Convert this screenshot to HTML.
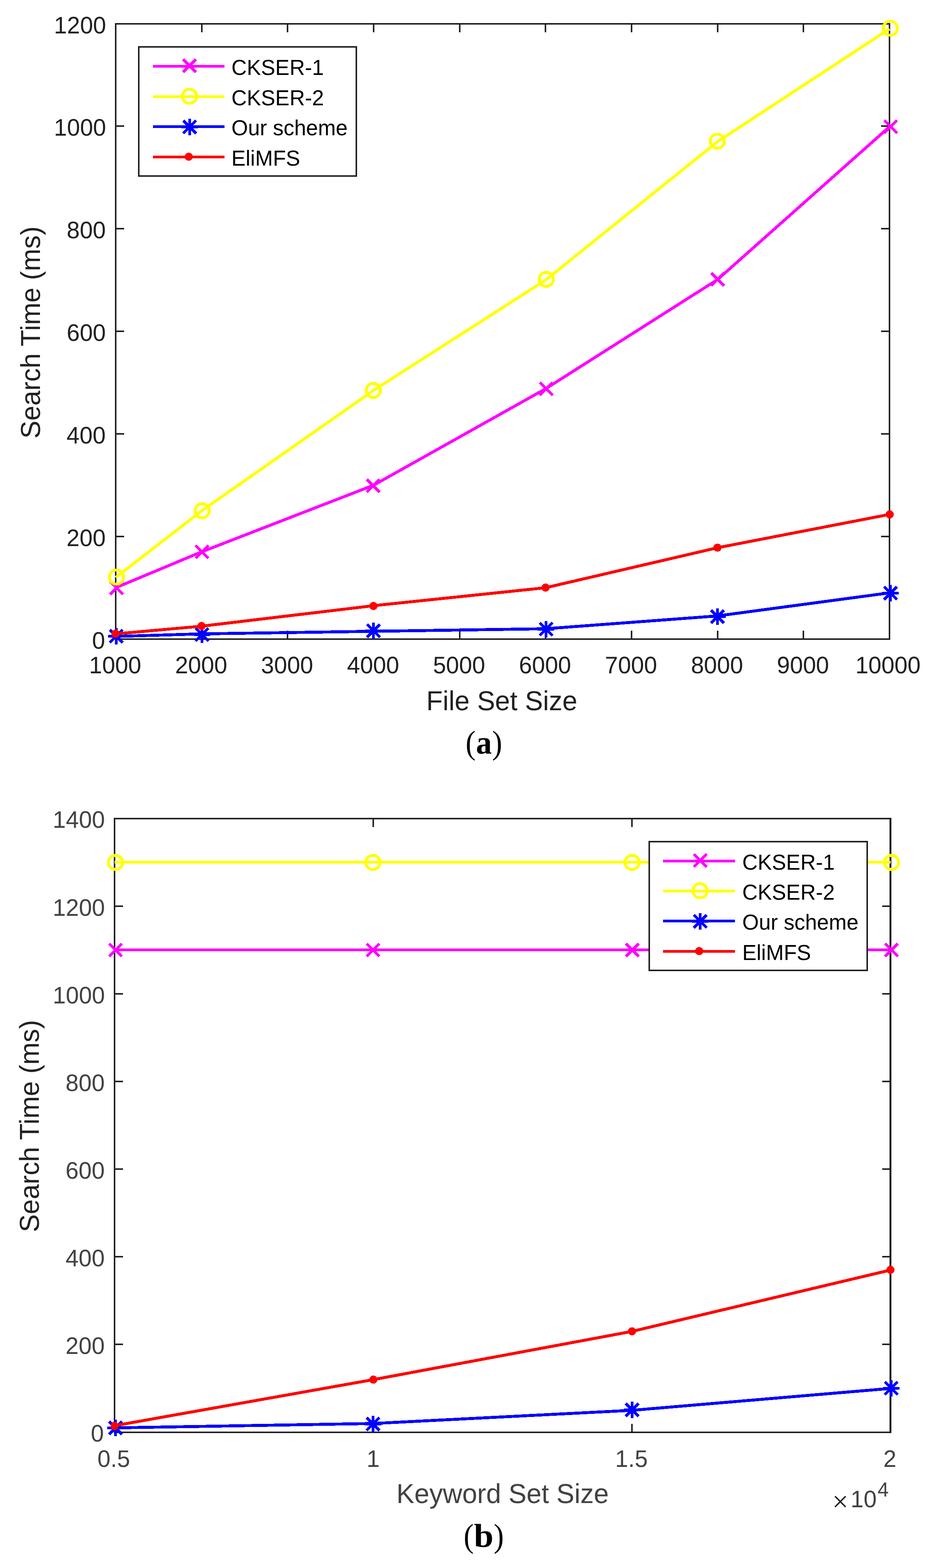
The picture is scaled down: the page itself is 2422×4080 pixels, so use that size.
<!DOCTYPE html>
<html lang="en">
<head>
<meta charset="utf-8">
<title>Search time comparison: (a) File Set Size, (b) Keyword Set Size</title>
<style>
html,body{margin:0;padding:0;background:#fff;}
body{width:2422px;height:4080px;overflow:hidden;}
svg{display:block;}
</style>
</head>
<body>
<svg width="2422" height="4080" viewBox="0 0 2422 4080" shape-rendering="crispEdges" text-rendering="geometricPrecision">
<rect width="2422" height="4080" fill="#fff"/>
<g class="chart">
<path d="M301.00 1663V1641M301.00 62V84M524.67 1663V1641M524.67 62V84M748.33 1663V1641M748.33 62V84M972.00 1663V1641M972.00 62V84M1195.67 1663V1641M1195.67 62V84M1419.33 1663V1641M1419.33 62V84M1643.00 1663V1641M1643.00 62V84M1866.67 1663V1641M1866.67 62V84M2090.33 1663V1641M2090.33 62V84M2314.00 1663V1641M2314.00 62V84M301 1663.00H323M2314 1663.00H2292M301 1395.67H323M2314 1395.67H2292M301 1128.83H323M2314 1128.83H2292M301 862.00H323M2314 862.00H2292M301 595.17H323M2314 595.17H2292M301 328.33H323M2314 328.33H2292M301 62.00H323M2314 62.00H2292" stroke="#212121" stroke-width="4" fill="none"/>
<rect x="301" y="62" width="2013" height="1601" stroke="#212121" stroke-width="4" fill="none"/>
<text transform="translate(299.60 1752.30) scale(1 1.02)" text-anchor="middle" font-family='"Liberation Sans", Arial, Helvetica, sans-serif' font-size="61" fill="#212121">1000</text>
<text transform="translate(523.27 1752.30) scale(1 1.02)" text-anchor="middle" font-family='"Liberation Sans", Arial, Helvetica, sans-serif' font-size="61" fill="#212121">2000</text>
<text transform="translate(746.93 1752.30) scale(1 1.02)" text-anchor="middle" font-family='"Liberation Sans", Arial, Helvetica, sans-serif' font-size="61" fill="#212121">3000</text>
<text transform="translate(970.60 1752.30) scale(1 1.02)" text-anchor="middle" font-family='"Liberation Sans", Arial, Helvetica, sans-serif' font-size="61" fill="#212121">4000</text>
<text transform="translate(1194.27 1752.30) scale(1 1.02)" text-anchor="middle" font-family='"Liberation Sans", Arial, Helvetica, sans-serif' font-size="61" fill="#212121">5000</text>
<text transform="translate(1417.93 1752.30) scale(1 1.02)" text-anchor="middle" font-family='"Liberation Sans", Arial, Helvetica, sans-serif' font-size="61" fill="#212121">6000</text>
<text transform="translate(1641.60 1752.30) scale(1 1.02)" text-anchor="middle" font-family='"Liberation Sans", Arial, Helvetica, sans-serif' font-size="61" fill="#212121">7000</text>
<text transform="translate(1865.27 1752.30) scale(1 1.02)" text-anchor="middle" font-family='"Liberation Sans", Arial, Helvetica, sans-serif' font-size="61" fill="#212121">8000</text>
<text transform="translate(2088.93 1752.30) scale(1 1.02)" text-anchor="middle" font-family='"Liberation Sans", Arial, Helvetica, sans-serif' font-size="61" fill="#212121">9000</text>
<text transform="translate(2310.00 1752.30) scale(1 1.02)" text-anchor="middle" font-family='"Liberation Sans", Arial, Helvetica, sans-serif' font-size="61" fill="#212121">10000</text>
<text transform="translate(273.50 1687.60) scale(1 1.02)" text-anchor="end" font-family='"Liberation Sans", Arial, Helvetica, sans-serif' font-size="61" fill="#212121">0</text>
<text transform="translate(274.85 1420.77) scale(1 1.02)" text-anchor="end" font-family='"Liberation Sans", Arial, Helvetica, sans-serif' font-size="61" fill="#212121">200</text>
<text transform="translate(274.85 1153.93) scale(1 1.02)" text-anchor="end" font-family='"Liberation Sans", Arial, Helvetica, sans-serif' font-size="61" fill="#212121">400</text>
<text transform="translate(275.30 887.10) scale(1 1.02)" text-anchor="end" font-family='"Liberation Sans", Arial, Helvetica, sans-serif' font-size="61" fill="#212121">600</text>
<text transform="translate(275.30 620.27) scale(1 1.02)" text-anchor="end" font-family='"Liberation Sans", Arial, Helvetica, sans-serif' font-size="61" fill="#212121">800</text>
<text transform="translate(276.00 353.43) scale(1 1.02)" text-anchor="end" font-family='"Liberation Sans", Arial, Helvetica, sans-serif' font-size="61" fill="#212121">1000</text>
<text transform="translate(276.00 86.60) scale(1 1.02)" text-anchor="end" font-family='"Liberation Sans", Arial, Helvetica, sans-serif' font-size="61" fill="#212121">1200</text>
<text transform="translate(1305.40 1848.00) scale(1 1.02)" text-anchor="middle" font-family='"Liberation Sans", Arial, Helvetica, sans-serif' font-size="70" fill="#212121">File Set Size</text>
<text transform="translate(104.00 865.00) rotate(-90) scale(1 1.02)" text-anchor="middle" font-family='"Liberation Sans", Arial, Helvetica, sans-serif' font-size="70" fill="#212121">Search Time (ms)</text>
<polyline points="301.00,1529.28 524.67,1435.89 972.00,1262.45 1419.33,1011.63 1866.67,727.45 2314.00,329.87" stroke="#ff00ff" stroke-width="7.7" fill="none" stroke-linejoin="round"/>
<path d="M286.35 1513.20L319.75 1546.60M286.35 1546.60L319.75 1513.20" stroke="#ff00ff" stroke-width="7.2" fill="none"/>
<path d="M508.80 1419.20L542.20 1452.60M508.80 1452.60L542.20 1419.20" stroke="#ff00ff" stroke-width="7.2" fill="none"/>
<path d="M954.28 1247.20L987.68 1280.60M954.28 1280.60L987.68 1247.20" stroke="#ff00ff" stroke-width="7.2" fill="none"/>
<path d="M1404.30 995.14L1437.70 1028.54M1404.30 1028.54L1437.70 995.14" stroke="#ff00ff" stroke-width="7.2" fill="none"/>
<path d="M1850.25 710.20L1883.65 743.60M1850.25 743.60L1883.65 710.20" stroke="#ff00ff" stroke-width="7.2" fill="none"/>
<path d="M2300.37 313.14L2333.77 346.54M2300.37 346.54L2333.77 313.14" stroke="#ff00ff" stroke-width="7.2" fill="none"/>
<polyline points="301.00,1502.60 524.67,1329.16 972.00,1015.63 1419.33,728.78 1866.67,368.56 2314.00,75.04" stroke="#ffff00" stroke-width="7.7" fill="none" stroke-linejoin="round"/>
<polygon points="321.05,1495.79 321.05,1507.21 316.40,1514.85 308.76,1519.50 297.34,1519.50 289.70,1514.85 285.05,1507.21 285.05,1495.79 289.70,1488.15 297.34,1483.50 308.76,1483.50 316.40,1488.15" stroke="#ffff00" stroke-width="7.2" fill="none" stroke-linejoin="round"/>
<polygon points="543.97,1323.27 543.97,1334.69 539.32,1342.33 531.68,1346.98 520.26,1346.98 512.62,1342.33 507.97,1334.69 507.97,1323.27 512.62,1315.63 520.26,1310.98 531.68,1310.98 539.32,1315.63" stroke="#ffff00" stroke-width="7.2" fill="none" stroke-linejoin="round"/>
<polygon points="989.05,1010.27 989.05,1021.69 984.40,1029.33 976.76,1033.98 965.34,1033.98 957.70,1029.33 953.05,1021.69 953.05,1010.27 957.70,1002.63 965.34,997.98 976.76,997.98 984.40,1002.63" stroke="#ffff00" stroke-width="7.2" fill="none" stroke-linejoin="round"/>
<polygon points="1439.05,721.24 1439.05,732.66 1434.40,740.30 1426.76,744.95 1415.34,744.95 1407.70,740.30 1403.05,732.66 1403.05,721.24 1407.70,713.60 1415.34,708.95 1426.76,708.95 1434.40,713.60" stroke="#ffff00" stroke-width="7.2" fill="none" stroke-linejoin="round"/>
<polygon points="1883.98,361.79 1883.98,373.21 1879.33,380.85 1871.69,385.50 1860.27,385.50 1852.63,380.85 1847.98,373.21 1847.98,361.79 1852.63,354.15 1860.27,349.50 1871.69,349.50 1879.33,354.15" stroke="#ffff00" stroke-width="7.2" fill="none" stroke-linejoin="round"/>
<polygon points="2334.00,67.89 2334.00,79.31 2329.35,86.95 2321.71,91.60 2310.29,91.60 2302.65,86.95 2298.00,79.31 2298.00,67.89 2302.65,60.25 2310.29,55.60 2321.71,55.60 2329.35,60.25" stroke="#ffff00" stroke-width="7.2" fill="none" stroke-linejoin="round"/>
<polyline points="301.00,1656.03 524.67,1649.36 972.00,1642.69 1419.33,1636.02 1866.67,1602.66 2314.00,1542.62" stroke="#0000ff" stroke-width="7.7" fill="none" stroke-linejoin="round"/>
<path d="M285.80 1638.70L319.20 1672.10M285.80 1672.10L319.20 1638.70M281.05 1655.40L323.95 1655.40M302.50 1633.95L302.50 1676.85" stroke="#0000ff" stroke-width="7.2" fill="none"/>
<path d="M508.70 1634.60L542.10 1668.00M508.70 1668.00L542.10 1634.60M503.95 1651.30L546.85 1651.30M525.40 1629.85L525.40 1672.75" stroke="#0000ff" stroke-width="7.2" fill="none"/>
<path d="M954.86 1624.70L988.26 1658.10M954.86 1658.10L988.26 1624.70M950.11 1641.40L993.01 1641.40M971.56 1619.95L971.56 1662.85" stroke="#0000ff" stroke-width="7.2" fill="none"/>
<path d="M1403.97 1620.36L1437.37 1653.76M1403.97 1653.76L1437.37 1620.36M1399.22 1637.06L1442.12 1637.06M1420.67 1615.61L1420.67 1658.51" stroke="#0000ff" stroke-width="7.2" fill="none"/>
<path d="M1849.80 1587.80L1883.20 1621.20M1849.80 1621.20L1883.20 1587.80M1845.05 1604.50L1887.95 1604.50M1866.50 1583.05L1866.50 1625.95" stroke="#0000ff" stroke-width="7.2" fill="none"/>
<path d="M2299.86 1526.73L2333.26 1560.13M2299.86 1560.13L2333.26 1526.73M2295.11 1543.43L2338.01 1543.43M2316.56 1521.98L2316.56 1564.88" stroke="#0000ff" stroke-width="7.2" fill="none"/>
<polyline points="301.00,1649.36 524.67,1629.35 972.00,1575.98 1419.33,1529.28 1866.67,1425.22 2314.00,1338.50" stroke="#ff0000" stroke-width="7.7" fill="none" stroke-linejoin="round"/>
<circle cx="300.55" cy="1648.90" r="10.6" fill="#ff0000"/>
<circle cx="524.25" cy="1628.90" r="10.6" fill="#ff0000"/>
<circle cx="971.50" cy="1576.90" r="10.6" fill="#ff0000"/>
<circle cx="1419.10" cy="1528.98" r="10.6" fill="#ff0000"/>
<circle cx="1866.50" cy="1425.05" r="10.6" fill="#ff0000"/>
<circle cx="2314.50" cy="1338.60" r="10.6" fill="#ff0000"/>
<rect x="361" y="121.5" width="565.9" height="336.1" fill="#fff" stroke="#212121" stroke-width="4"/>
<path d="M398 172.5H584" stroke="#ff00ff" stroke-width="7"/>
<path d="M476.30 154.35L509.70 187.75M476.30 187.75L509.70 154.35" stroke="#ff00ff" stroke-width="7.2" fill="none"/>
<text transform="translate(602.00 194.70) scale(1 1.02)" text-anchor="start" font-family='"Liberation Sans", Arial, Helvetica, sans-serif' font-size="55.5" fill="#000">CKSER-1</text>
<path d="M398 251.5H584" stroke="#ffff00" stroke-width="7"/>
<polygon points="510.95,244.74 510.95,256.16 506.30,263.80 498.66,268.45 487.24,268.45 479.60,263.80 474.95,256.16 474.95,244.74 479.60,237.10 487.24,232.45 498.66,232.45 506.30,237.10" stroke="#ffff00" stroke-width="7.2" fill="none" stroke-linejoin="round"/>
<text transform="translate(602.00 273.70) scale(1 1.02)" text-anchor="start" font-family='"Liberation Sans", Arial, Helvetica, sans-serif' font-size="55.5" fill="#000">CKSER-2</text>
<path d="M398 329.6H584" stroke="#0000ff" stroke-width="7"/>
<path d="M476.80 313.70L510.20 347.10M476.80 347.10L510.20 313.70M472.05 330.40L514.95 330.40M493.50 308.95L493.50 351.85" stroke="#0000ff" stroke-width="7.2" fill="none"/>
<text transform="translate(602.00 351.80) scale(1 1.02)" text-anchor="start" font-family='"Liberation Sans", Arial, Helvetica, sans-serif' font-size="55.5" fill="#000">Our scheme</text>
<path d="M398 408.3H584" stroke="#ff0000" stroke-width="7"/>
<circle cx="491.00" cy="407.90" r="10.6" fill="#ff0000"/>
<text transform="translate(602.00 430.50) scale(1 1.02)" text-anchor="start" font-family='"Liberation Sans", Arial, Helvetica, sans-serif' font-size="55.5" fill="#000">EliMFS</text>
</g>
<g class="chart">
<path d="M298.00 3727V3705M298.00 2130V2152M970.83 3727V3705M970.83 2130V2152M1643.67 3727V3705M1643.67 2130V2152M2316.50 3727V3705M2316.50 2130V2152M298 3727.00H320M2316.5 3727.00H2294.5M298 3498.36H320M2316.5 3498.36H2294.5M298 3270.21H320M2316.5 3270.21H2294.5M298 3042.07H320M2316.5 3042.07H2294.5M298 2813.93H320M2316.5 2813.93H2294.5M298 2585.79H320M2316.5 2585.79H2294.5M298 2357.64H320M2316.5 2357.64H2294.5M298 2130.00H320M2316.5 2130.00H2294.5" stroke="#212121" stroke-width="4" fill="none"/>
<rect x="298" y="2130" width="2018.5" height="1597" stroke="#212121" stroke-width="4" fill="none"/>
<rect x="2314" y="2128" width="1.5" height="1601" fill="#212121"/>
<text transform="translate(296.00 3817.00) scale(1 1.02)" text-anchor="middle" font-family='"Liberation Sans", Arial, Helvetica, sans-serif' font-size="61" fill="#424242">0.5</text>
<text transform="translate(970.83 3817.00) scale(1 1.02)" text-anchor="middle" font-family='"Liberation Sans", Arial, Helvetica, sans-serif' font-size="61" fill="#424242">1</text>
<text transform="translate(1642.67 3817.00) scale(1 1.02)" text-anchor="middle" font-family='"Liberation Sans", Arial, Helvetica, sans-serif' font-size="61" fill="#424242">1.5</text>
<text transform="translate(2315.00 3817.00) scale(1 1.02)" text-anchor="middle" font-family='"Liberation Sans", Arial, Helvetica, sans-serif' font-size="61" fill="#424242">2</text>
<text transform="translate(270.10 3751.40) scale(1 1.02)" text-anchor="end" font-family='"Liberation Sans", Arial, Helvetica, sans-serif' font-size="61" fill="#424242">0</text>
<text transform="translate(272.40 3523.26) scale(1 1.02)" text-anchor="end" font-family='"Liberation Sans", Arial, Helvetica, sans-serif' font-size="61" fill="#424242">200</text>
<text transform="translate(272.40 3295.11) scale(1 1.02)" text-anchor="end" font-family='"Liberation Sans", Arial, Helvetica, sans-serif' font-size="61" fill="#424242">400</text>
<text transform="translate(272.40 3066.97) scale(1 1.02)" text-anchor="end" font-family='"Liberation Sans", Arial, Helvetica, sans-serif' font-size="61" fill="#424242">600</text>
<text transform="translate(272.40 2838.83) scale(1 1.02)" text-anchor="end" font-family='"Liberation Sans", Arial, Helvetica, sans-serif' font-size="61" fill="#424242">800</text>
<text transform="translate(273.00 2610.69) scale(1 1.02)" text-anchor="end" font-family='"Liberation Sans", Arial, Helvetica, sans-serif' font-size="61" fill="#424242">1000</text>
<text transform="translate(273.00 2382.54) scale(1 1.02)" text-anchor="end" font-family='"Liberation Sans", Arial, Helvetica, sans-serif' font-size="61" fill="#424242">1200</text>
<text transform="translate(273.00 2154.40) scale(1 1.02)" text-anchor="end" font-family='"Liberation Sans", Arial, Helvetica, sans-serif' font-size="61" fill="#424242">1400</text>
<text transform="translate(1307.50 3910.90) scale(1 1.02)" text-anchor="middle" font-family='"Liberation Sans", Arial, Helvetica, sans-serif' font-size="70" fill="#424242">Keyword Set Size</text>
<text transform="translate(101.00 2930.00) rotate(-90) scale(1 1.02)" text-anchor="middle" font-family='"Liberation Sans", Arial, Helvetica, sans-serif' font-size="70" fill="#212121">Search Time (ms)</text>
<text transform="translate(2165.00 3931.70)" text-anchor="start" font-family='"Liberation Serif", "Times New Roman", serif' font-size="74.5" fill="#212121">×</text>
<text transform="translate(2212.80 3922.20) scale(1 1.02)" text-anchor="start" font-family='"Liberation Sans", Arial, Helvetica, sans-serif' font-size="61" fill="#424242">10</text>
<text transform="translate(2283.00 3893.60) scale(1 1.02)" text-anchor="start" font-family='"Liberation Sans", Arial, Helvetica, sans-serif' font-size="52" fill="#424242">4</text>
<polyline points="298.00,2471.71 970.83,2471.71 1643.67,2471.71 2316.50,2471.71" stroke="#ff00ff" stroke-width="7" fill="none" stroke-linejoin="round"/>
<path d="M283.80 2455.25L317.20 2488.65M283.80 2488.65L317.20 2455.25" stroke="#ff00ff" stroke-width="7.2" fill="none"/>
<path d="M953.80 2455.25L987.20 2488.65M953.80 2488.65L987.20 2455.25" stroke="#ff00ff" stroke-width="7.2" fill="none"/>
<path d="M1628.30 2455.25L1661.70 2488.65M1628.30 2488.65L1661.70 2455.25" stroke="#ff00ff" stroke-width="7.2" fill="none"/>
<path d="M2302.37 2455.25L2335.77 2488.65M2302.37 2488.65L2335.77 2455.25" stroke="#ff00ff" stroke-width="7.2" fill="none"/>
<polyline points="298.00,2243.57 970.83,2243.57 1643.67,2243.57 2316.50,2243.57" stroke="#ffff00" stroke-width="7" fill="none" stroke-linejoin="round"/>
<polygon points="318.50,2238.29 318.50,2249.71 313.85,2257.35 306.21,2262.00 294.79,2262.00 287.15,2257.35 282.50,2249.71 282.50,2238.29 287.15,2230.65 294.79,2226.00 306.21,2226.00 313.85,2230.65" stroke="#ffff00" stroke-width="7.2" fill="none" stroke-linejoin="round"/>
<polygon points="988.14,2238.29 988.14,2249.71 983.49,2257.35 975.85,2262.00 964.43,2262.00 956.79,2257.35 952.14,2249.71 952.14,2238.29 956.79,2230.65 964.43,2226.00 975.85,2226.00 983.49,2230.65" stroke="#ffff00" stroke-width="7.2" fill="none" stroke-linejoin="round"/>
<polygon points="1662.50,2238.29 1662.50,2249.71 1657.85,2257.35 1650.21,2262.00 1638.79,2262.00 1631.15,2257.35 1626.50,2249.71 1626.50,2238.29 1631.15,2230.65 1638.79,2226.00 1650.21,2226.00 1657.85,2230.65" stroke="#ffff00" stroke-width="7.2" fill="none" stroke-linejoin="round"/>
<polygon points="2337.45,2238.29 2337.45,2249.71 2332.80,2257.35 2325.16,2262.00 2313.74,2262.00 2306.10,2257.35 2301.45,2249.71 2301.45,2238.29 2306.10,2230.65 2313.74,2226.00 2325.16,2226.00 2332.80,2230.65" stroke="#ffff00" stroke-width="7.2" fill="none" stroke-linejoin="round"/>
<polyline points="298.00,3715.39 970.83,3703.99 1643.67,3669.76 2316.50,3612.73" stroke="#0000ff" stroke-width="7.7" fill="none" stroke-linejoin="round"/>
<path d="M283.80 3698.80L317.20 3732.20M283.80 3732.20L317.20 3698.80M279.05 3715.50L321.95 3715.50M300.50 3694.05L300.50 3736.95" stroke="#0000ff" stroke-width="7.2" fill="none"/>
<path d="M953.80 3688.70L987.20 3722.10M953.80 3722.10L987.20 3688.70M949.05 3705.40L991.95 3705.40M970.50 3683.95L970.50 3726.85" stroke="#0000ff" stroke-width="7.2" fill="none"/>
<path d="M1627.80 3651.87L1661.20 3685.27M1627.80 3685.27L1661.20 3651.87M1623.05 3668.57L1665.95 3668.57M1644.50 3647.12L1644.50 3690.02" stroke="#0000ff" stroke-width="7.2" fill="none"/>
<path d="M2301.78 3595.65L2335.18 3629.05M2301.78 3629.05L2335.18 3595.65M2297.03 3612.35L2339.93 3612.35M2318.48 3590.90L2318.48 3633.80" stroke="#0000ff" stroke-width="7.2" fill="none"/>
<polyline points="298.00,3709.69 970.83,3589.91 1643.67,3464.44 2316.50,3304.74" stroke="#ff0000" stroke-width="7.7" fill="none" stroke-linejoin="round"/>
<circle cx="298.20" cy="3710.30" r="10.6" fill="#ff0000"/>
<circle cx="971.20" cy="3589.87" r="10.6" fill="#ff0000"/>
<circle cx="1644.16" cy="3464.15" r="10.6" fill="#ff0000"/>
<circle cx="2316.50" cy="3304.30" r="10.6" fill="#ff0000"/>
<rect x="1689" y="2190" width="566.5999999999999" height="334.8000000000002" fill="#fff" stroke="#212121" stroke-width="4"/>
<path d="M1725 2240.4H1912.0" stroke="#ff00ff" stroke-width="7"/>
<path d="M1805.20 2222.30L1838.60 2255.70M1805.20 2255.70L1838.60 2222.30" stroke="#ff00ff" stroke-width="7.2" fill="none"/>
<text transform="translate(1931.00 2263.00) scale(1 1.02)" text-anchor="start" font-family='"Liberation Sans", Arial, Helvetica, sans-serif' font-size="55.5" fill="#000">CKSER-1</text>
<path d="M1725 2318.5H1912.0" stroke="#ffff00" stroke-width="7"/>
<polygon points="1839.20,2312.09 1839.20,2323.51 1834.55,2331.15 1826.91,2335.80 1815.49,2335.80 1807.85,2331.15 1803.20,2323.51 1803.20,2312.09 1807.85,2304.45 1815.49,2299.80 1826.91,2299.80 1834.55,2304.45" stroke="#ffff00" stroke-width="7.2" fill="none" stroke-linejoin="round"/>
<text transform="translate(1931.00 2341.10) scale(1 1.02)" text-anchor="start" font-family='"Liberation Sans", Arial, Helvetica, sans-serif' font-size="55.5" fill="#000">CKSER-2</text>
<path d="M1725 2396.6H1912.0" stroke="#0000ff" stroke-width="7"/>
<path d="M1804.90 2380.70L1838.30 2414.10M1804.90 2414.10L1838.30 2380.70M1800.15 2397.40L1843.05 2397.40M1821.60 2375.95L1821.60 2418.85" stroke="#0000ff" stroke-width="7.2" fill="none"/>
<text transform="translate(1931.00 2419.20) scale(1 1.02)" text-anchor="start" font-family='"Liberation Sans", Arial, Helvetica, sans-serif' font-size="55.5" fill="#000">Our scheme</text>
<path d="M1725 2475.4H1912.0" stroke="#ff0000" stroke-width="7"/>
<circle cx="1818.95" cy="2474.90" r="10.6" fill="#ff0000"/>
<text transform="translate(1931.00 2498.00) scale(1 1.02)" text-anchor="start" font-family='"Liberation Sans", Arial, Helvetica, sans-serif' font-size="55.5" fill="#000">EliMFS</text>
</g>
<text y="1960.5" font-family='"Liberation Serif", "Times New Roman", serif' font-size="86.3" fill="#000"><tspan x="1211.35" textLength="26.18" lengthAdjust="spacingAndGlyphs">(</tspan><tspan x="1238.24" textLength="41.25" lengthAdjust="spacingAndGlyphs" font-weight="bold">a</tspan><tspan x="1280.37" textLength="26.18" lengthAdjust="spacingAndGlyphs">)</tspan></text>
<text y="4025.0" font-family='"Liberation Serif", "Times New Roman", serif' font-size="86.3" fill="#000"><tspan x="1206.35" textLength="26.18" lengthAdjust="spacingAndGlyphs">(</tspan><tspan x="1232.73" textLength="51.07" lengthAdjust="spacingAndGlyphs" font-weight="bold">b</tspan><tspan x="1284.47" textLength="26.18" lengthAdjust="spacingAndGlyphs">)</tspan></text>
</svg>
</body>
</html>
